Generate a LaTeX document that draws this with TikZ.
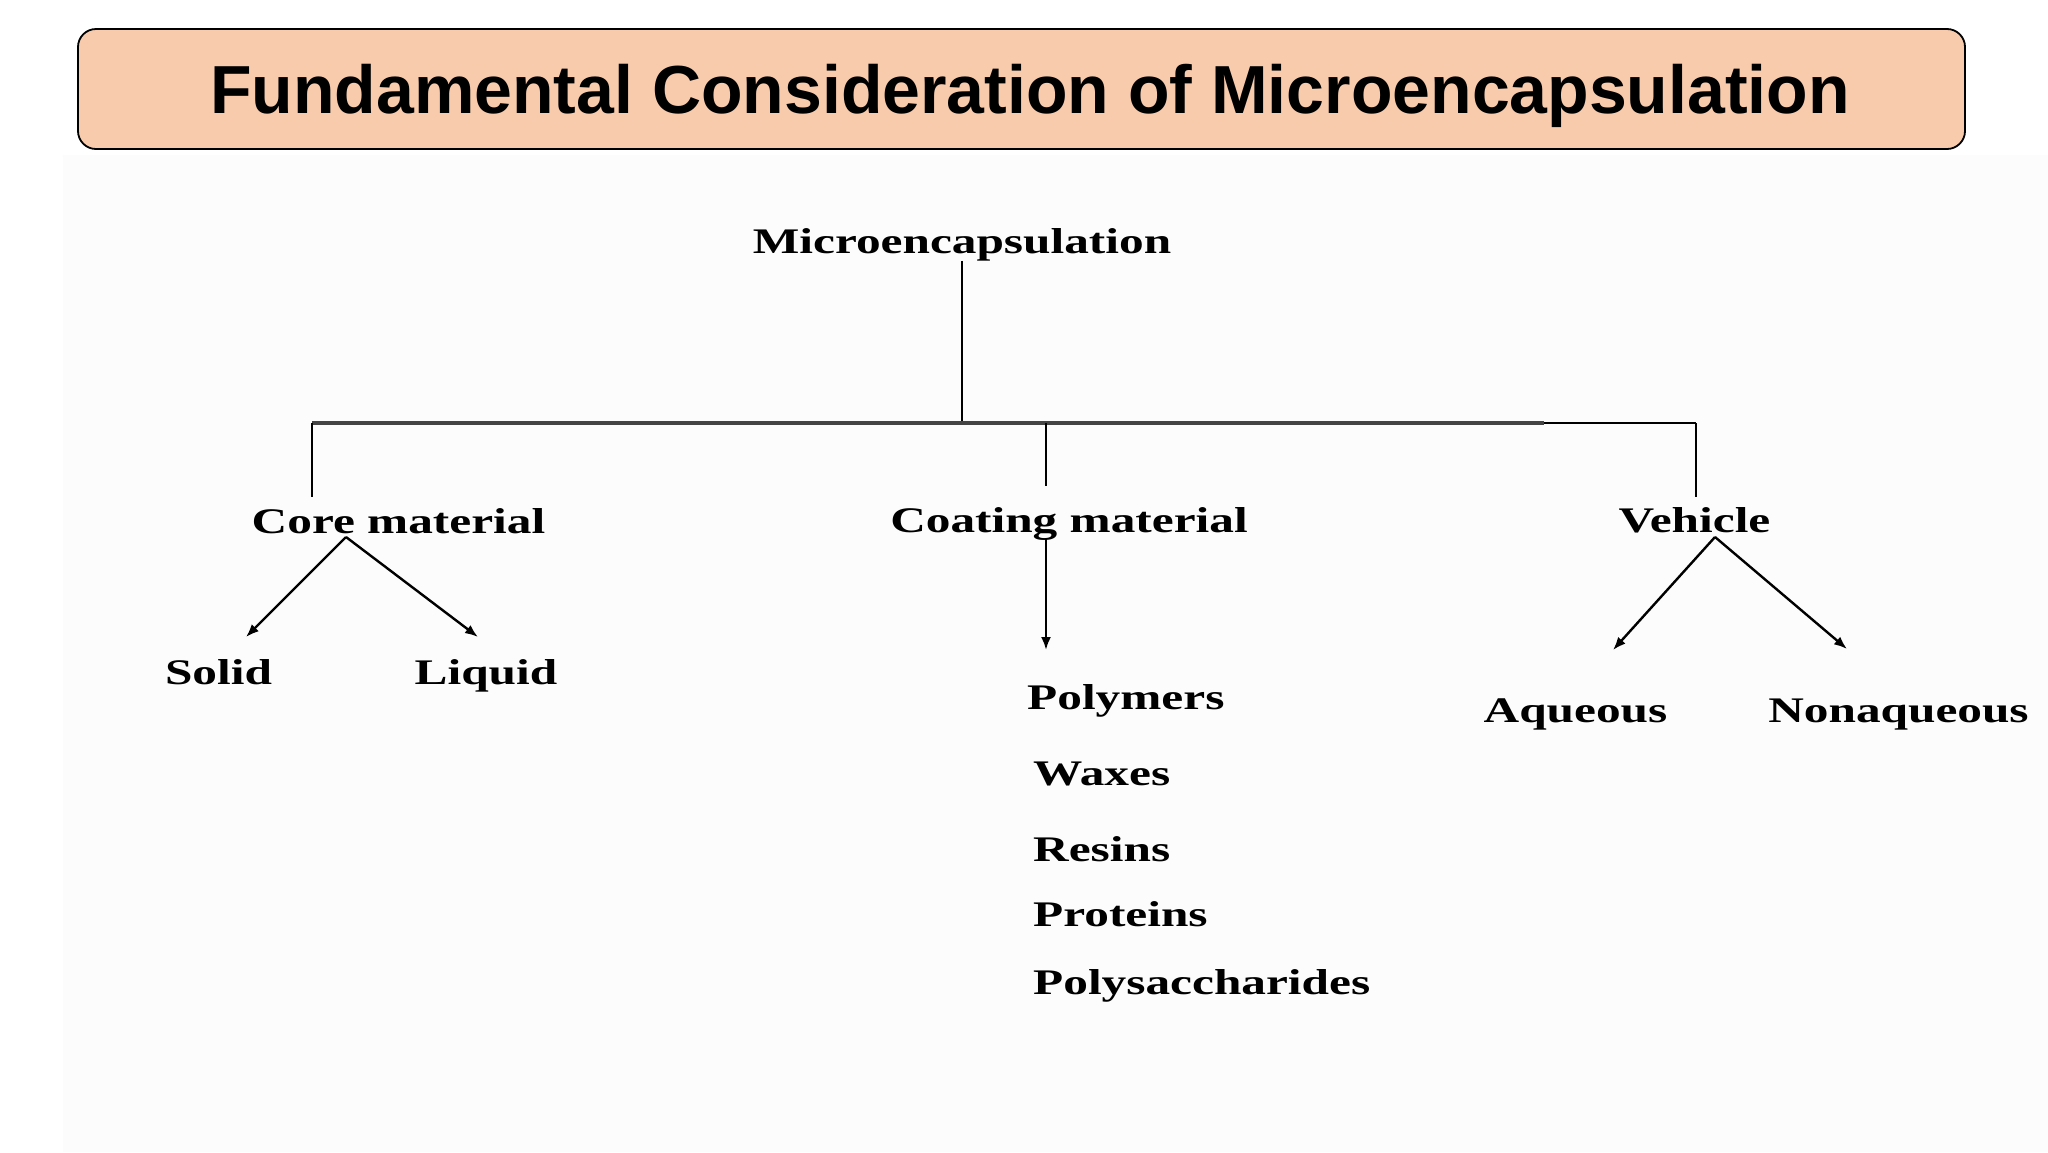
\documentclass[tikz,border=0pt]{standalone}
\usepackage{fontspec}
\setmainfont{Liberation Serif}
\newfontfamily\titlefont{Liberation Sans}
\newfontfamily\scanfont{Liberation Serif}[FakeStretch=1.37]
\usetikzlibrary{arrows.meta}
\definecolor{peach}{RGB}{247,203,172}
\definecolor{scanbg}{RGB}{253,252,253}
\definecolor{bargray}{RGB}{68,68,68}
\begin{document}
\begin{tikzpicture}[x=1pt,y=-1pt,
  lbl/.style={inner sep=0pt, font=\scanfont\bfseries\fontsize{36}{40}\selectfont, text=black},
  link/.style={line width=2.4pt, draw=black},
  arr/.style={line width=2.4pt, draw=black, -{Latex[length=13pt,width=10pt]}},
]
\useasboundingbox (0,0) rectangle (2048,1152);
\fill[white] (0,0) rectangle (2048,1152);
\fill[scanbg] (63,155) rectangle (2048,1152);
% title
\node[draw=black, line width=1.8pt, fill=peach, rounded corners=18pt,
      minimum width=1887pt, minimum height=120pt, inner sep=0pt] (title) at (1021.5,89) {};
\node[font=\titlefont\bfseries\fontsize{68}{80}\selectfont, anchor=base, inner sep=0pt]
      (titletext) at (1030,113) {Fundamental Consideration of Microencapsulation};
% labels
\node[lbl, anchor=base] (micro) at (962,253) {Microencapsulation};
\node[lbl, anchor=base] (core) at (398.5,533) {Core material};
\node[lbl, anchor=base] (coat) at (1069,532) {Coating material};
\node[lbl, anchor=base] (veh) at (1694.5,532) {Vehicle};
\node[lbl, anchor=base] (solid) at (218.5,684) {Solid};
\node[lbl, anchor=base] (liquid) at (486,684) {Liquid};
\node[lbl, anchor=base west] (poly) at (1027,709) {Polymers};
\node[lbl, anchor=base west] (wax) at (1033,785) {Waxes};
\node[lbl, anchor=base west] (resin) at (1033,861) {Resins};
\node[lbl, anchor=base west] (prot) at (1033,926) {Proteins};
\node[lbl, anchor=base west] (polys) at (1033,994) {Polysaccharides};
\node[lbl, anchor=base] (aq) at (1575.5,722) {Aqueous};
\node[lbl, anchor=base] (naq) at (1898.5,722) {Nonaqueous};
% junction coordinates
\coordinate (j0) at (962,423);
\coordinate (bl) at (312,423);
\coordinate (bc) at (1046,423);
\coordinate (bm) at (1544,423);
\coordinate (br) at (1696,423);
\coordinate (cdrop) at (312,497);
\coordinate (gdrop) at (1046,486);
\coordinate (vdrop) at (1696,497);
\coordinate (capex) at (346,537);
\coordinate (gapex) at (1046,538);
\coordinate (vapex) at (1715,537);
\coordinate (tsolid) at (246,637);
\coordinate (tliquid) at (478,637);
\coordinate (tpoly) at (1046,650);
\coordinate (taq) at (1613,650);
\coordinate (tnaq) at (1847,649);
% tree lines
\draw[link] (micro.south) -- (j0);
\draw[line width=3.6pt, draw=bargray] (bl) -- (bm);
\draw[link] (bm) -- (br);
\draw[link] (bl) -- (cdrop);
\draw[link] (bc) -- (gdrop);
\draw[link] (br) -- (vdrop);
% arrows
\draw[arr] (capex) -- (tsolid);
\draw[arr] (capex) -- (tliquid);
\draw[arr] (gapex) -- (tpoly);
\draw[arr] (vapex) -- (taq);
\draw[arr] (vapex) -- (tnaq);
\end{tikzpicture}
\end{document}
